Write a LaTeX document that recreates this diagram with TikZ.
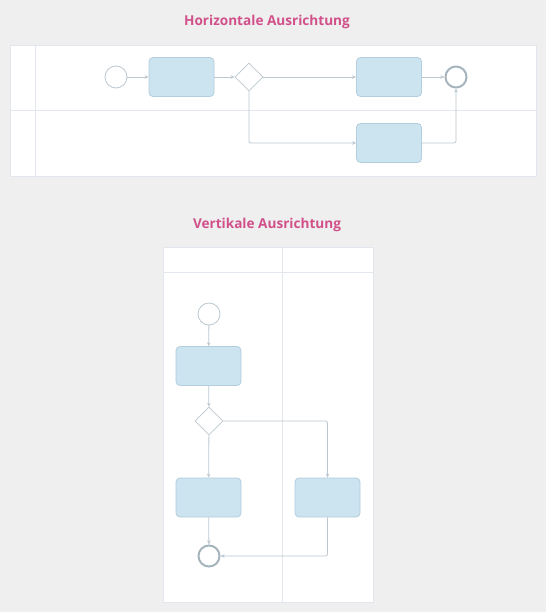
\documentclass[tikz,border=0pt]{standalone}
\usepackage{fontspec}
\setmainfont{Open Sans}
\usetikzlibrary{arrows.meta,shapes.geometric}
\definecolor{bgc}{HTML}{EFEFEF}
\definecolor{poolline}{HTML}{E1E7EC}
\definecolor{taskfill}{HTML}{CCE3F0}
\definecolor{taskline}{HTML}{B3CEDD}
\definecolor{evline}{HTML}{BCC8D0}
\definecolor{endline}{HTML}{A6B4BE}
\definecolor{flowc}{HTML}{BCC8D1}
\definecolor{titlec}{HTML}{D1508A}
\begin{document}
\begin{tikzpicture}[x=1pt,y=-1pt,
  task/.style={draw=taskline,fill=taskfill,rounded corners=4pt,line width=0.8pt,minimum width=65pt,minimum height=39pt,inner sep=0pt},
  startev/.style={circle,draw=evline,fill=white,line width=0.8pt,minimum size=22pt,inner sep=0pt},
  endev/.style={circle,draw=endline,fill=white,line width=2pt,minimum size=21pt,inner sep=0pt},
  gate/.style={diamond,draw=evline,fill=white,line width=0.8pt,minimum width=28pt,minimum height=28pt,inner sep=0pt,aspect=1},
  flow/.style={draw=flowc,line width=0.8pt,rounded corners=2pt,-{Stealth[length=4pt,width=3.5pt]}},
  pool/.style={draw=poolline,fill=white,line width=0.8pt},
  lane/.style={draw=poolline,line width=0.8pt},
  titletext/.style={text=titlec,font=\fontsize{13.6pt}{15pt}\selectfont\bfseries}]
\fill[bgc] (0,0) rectangle (546,612);
\useasboundingbox (0,0) rectangle (546,612);
% ---------- horizontal ----------
\node[titletext] (t1) at (267,22) {Horizontale Ausrichtung};
\draw[pool] (10,45) rectangle (536,176);
\draw[lane] (35,45) -- (35,176);
\draw[lane] (10,110) -- (536,110);
\node[startev] (hs) at (116,77) {};
\node[task] (ha) at (181.5,77) {};
\node[gate] (hg) at (249,77) {};
\node[task] (hb) at (389,77) {};
\node[endev] (he) at (456,77) {};
\node[task] (hc) at (389,143) {};
\draw[flow] (hs) -- (ha);
\draw[flow] (ha) -- (hg);
\draw[flow] (hg) -- (hb);
\draw[flow] (hb) -- (he);
\draw[flow] (hg.south) |- (hc.west);
\draw[flow] (hc.east) -| (he.south);
% ---------- vertical ----------
\node[titletext] (t2) at (267,225) {Vertikale Ausrichtung};
\draw[pool] (163,247) rectangle (373,602);
\draw[lane] (163,272) -- (373,272);
\draw[lane] (282,247) -- (282,602);
\node[startev] (vs) at (209,314) {};
\node[task] (va) at (208.5,366) {};
\node[gate] (vg) at (209,421) {};
\node[task] (vb) at (208.5,497.5) {};
\node[task] (vc) at (327.5,497.5) {};
\node[endev] (ve) at (209,556) {};
\draw[flow] (vs) -- (va);
\draw[flow] (va) -- (vg);
\draw[flow] (vg) -- (vb);
\draw[flow] (vb) -- (ve);
\draw[flow] (vg.east) -| (vc.north);
\draw[flow] (vc.south) |- (ve.east);
\end{tikzpicture}
\end{document}
